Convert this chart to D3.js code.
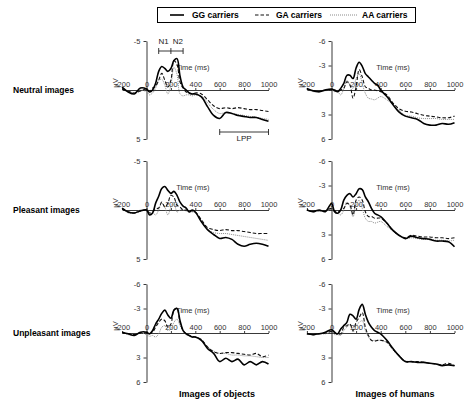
<!DOCTYPE html>
<html>
<head>
<meta charset="utf-8">
<script src="https://cdn.jsdelivr.net/npm/d3@7"></script>
<style>
  body { margin: 0; background: #fff; }
  svg { display: block; font-family: "Liberation Sans", Arial, sans-serif; }
  .axis text { font-size: 7.5px; fill: #333; }
  .axis path, .axis line { stroke: #222; stroke-width: 0.9; }
</style>
</head>
<body>
<div id="chart"></div>
<script>
// time points (ms) shared by every waveform
const times = [-200, -150, -100, -50, 0, 25, 50, 75, 100, 125, 150, 175, 200, 225, 250, 275, 300,
  325, 350, 375, 400, 450, 500, 550, 600, 650, 700, 750, 800, 850, 900, 950, 1000];

const xTicks = [-200, 0, 200, 400, 600, 800, 1000];
const yTicks5 = [-5, 5];
const yTicks6 = [-6, -3, 3, 6];

const rowLabels = ['Neutral images', 'Pleasant images', 'Unpleasant images'];
const colLabels = ['Images of objects', 'Images of humans'];
const seriesNames = ['GG carriers', 'GA carriers', 'AA carriers'];

// amplitudes in µV (negative plotted upward)
const neutralObjectsGG = [-0.3, 0.2, 0.4, -0.2, -0.1, 0.2, 0, -0.7, -1.9, -2.4, -2.2, -1.9, -2.2, -3.0, -3.2, -1.4, -0.3,
  0, 0.3, 0.4, 0.4, 0.7, 1.7, 2.6, 2.9, 2.3, 2.4, 2.6, 2.7, 2.8, 2.8, 3.0, 3.2];
const neutralObjectsGA = [-0.1, 0.1, 0.3, 0.1, -0.1, 0.1, -0.2, -0.4, -1.0, -1.7, -1.0, -0.3, -1.0, -3.0, -2.6, -0.8, -0.2,
  0.2, 0.3, 0.4, 0.3, 0.4, 1.0, 1.6, 1.9, 1.8, 1.9, 1.8, 1.9, 2.0, 2.0, 2.1, 2.2];
const neutralObjectsAA = [-0.2, 0.1, 0.3, 0, 0.2, 0.5, 0.3, -0.2, -1.0, -1.1, -0.5, 0.4, -0.5, -2.3, -1.6, 0.4, 0.6,
  0.5, 0.5, 0.6, 0.5, 0.6, 1.3, 2.0, 2.4, 2.3, 2.4, 2.5, 2.6, 2.7, 2.8, 2.9, 3.0];

const neutralHumansGG = [-0.2, 0.1, 0.2, 0, -0.1, 0, 0.2, -0.2, -0.8, -1.8, -1.8, -1.4, -2.7, -3.4, -2.9, -2.0, -1.6,
  -1.2, -0.8, -0.6, 0, 0.8, 1.8, 2.7, 3.2, 3.4, 3.6, 4.1, 4.3, 4.3, 4.1, 4.2, 4.0];
const neutralHumansGA = [-0.1, 0.1, 0.2, 0, 0, 0.1, 0.2, 0, -0.2, -1.0, -0.6, 1.0, -0.4, -2.5, -1.6, -0.4, -0.2,
  0, 0, 0.1, 0.2, 0.6, 1.6, 2.3, 2.6, 2.7, 2.9, 3.1, 3.2, 3.3, 3.4, 3.4, 3.2];
const neutralHumansAA = [-0.1, 0.2, 0.2, 0.1, 0, 0.2, 0.2, 0.6, -0.2, -1.2, -0.6, -0.2, -1.4, -2.0, -0.8, 0.4, 1.0,
  1.1, 1.2, 1.0, 0.8, 1.2, 1.8, 2.5, 3.1, 3.2, 3.4, 3.5, 3.5, 3.5, 3.6, 3.6, 3.6];

const pleasantObjectsGG = [-0.2, 0.2, 0.3, 0.1, 0, 0.5, 0.3, -0.7, -1.4, -2.2, -2.4, -2.0, -1.7, -1.9, -1.5, -0.8, -0.4,
  -0.2, 0.2, 0, 0.2, 1.2, 2.0, 2.5, 2.9, 2.8, 3.0, 3.5, 3.7, 3.5, 3.4, 3.5, 3.7];
const pleasantObjectsGA = [-0.1, 0.2, 0.3, 0.1, 0, 0.3, 0.2, -0.1, -0.2, -0.8, -0.3, -0.7, -1.5, -1.3, -0.5, -0.3, 0,
  0, 0, 0.1, 0.2, 1.0, 1.8, 2.0, 2.1, 2.0, 2.1, 2.1, 2.2, 2.3, 2.4, 2.4, 2.4];
const pleasantObjectsAA = [-0.2, 0.3, 0.3, 0, 0.1, 0.4, 0.3, 0.5, 0, -0.7, -0.3, 0.5, -0.3, -0.8, 0.2, 0, 0,
  0.1, 0.2, 0.2, 0.3, 1.2, 2.0, 2.3, 2.4, 2.4, 2.5, 2.6, 2.7, 2.8, 2.9, 3.0, 3.1];

const pleasantHumansGG = [0, 0.2, 0, 0.2, -0.8, 0.2, 0.4, 0, -1.2, -1.8, -2.0, -1.6, -2.0, -2.6, -2.5, -1.6, -1.0,
  -0.2, 0.4, 0.6, 0.8, 1.6, 2.5, 3.1, 3.5, 3.2, 3.4, 3.5, 3.6, 3.8, 3.8, 3.9, 4.5];
const pleasantHumansGA = [0, 0.2, 0.1, 0.1, -0.2, 0.1, 0.2, 0, -0.2, -0.8, -0.6, 0.6, -1.2, -1.6, -1.2, 0.2, 0.8,
  0.8, 1.0, 1.0, 1.0, 1.6, 2.5, 3.1, 3.4, 3.1, 3.2, 3.3, 3.3, 3.4, 3.4, 3.5, 3.4];
const pleasantHumansAA = [0, 0.2, 0.1, 0.2, -0.1, 0.3, 0.4, 0.6, 0, -1.0, -0.4, 0.8, -0.6, -1.2, -0.2, 1.0, 1.4,
  1.4, 1.6, 1.5, 1.4, 2.0, 2.6, 3.2, 3.5, 3.4, 3.5, 3.6, 3.6, 3.7, 3.7, 3.8, 3.7];

const unpleasantObjectsGG = [-0.1, 0.1, 0.3, -0.1, -0.1, 0.1, -0.3, -1.1, -1.7, -2.4, -2.8, -2.2, -1.8, -2.8, -3.0, -1.5, -0.3,
  0.1, 0.3, 0.5, 0.5, 0.9, 1.9, 2.5, 3.5, 3.1, 3.5, 3.2, 3.9, 3.5, 3.9, 3.5, 3.8];
const unpleasantObjectsGA = [0, 0.1, 0.2, 0, 0, 0.1, -0.1, -0.7, -1.3, -1.7, -1.5, -0.7, -1.1, -2.8, -3.0, -1.3, -0.3,
  0.1, 0.3, 0.4, 0.5, 0.8, 1.7, 2.3, 2.5, 2.4, 2.4, 2.5, 2.6, 2.7, 2.5, 2.9, 2.7];
const unpleasantObjectsAA = [-0.1, 0.2, 0.3, 0, 0.2, 0.4, 0.3, 0.5, 0.1, -0.7, -0.9, -0.3, -0.5, -1.3, -1.7, -0.9, -0.3,
  0.2, 0.3, 0.4, 0.5, 0.8, 1.7, 2.2, 2.5, 2.5, 2.7, 2.7, 2.8, 2.8, 2.9, 3.0, 3.0];

const unpleasantHumansGG = [0.1, 0.2, 0.1, -0.1, -0.4, -0.1, 0.1, -0.5, -0.9, -1.3, -2.3, -2.1, -1.7, -2.9, -3.5, -2.3, -1.3,
  -0.7, -0.3, -0.1, 0.1, 0.9, 1.9, 2.8, 3.5, 3.5, 3.6, 3.6, 3.7, 3.8, 4.0, 3.9, 4.0];
const unpleasantHumansGA = [0.1, 0.2, 0.1, 0, -0.2, 0, 0.1, 0.1, -0.7, -0.9, -1.1, -0.3, -1.3, -1.9, -2.5, -0.7, 0.3,
  0.9, 1.0, 0.9, 0.9, 1.1, 2.0, 2.8, 3.5, 3.5, 3.5, 3.6, 3.7, 3.8, 3.9, 3.7, 4.0];
const unpleasantHumansAA = [0.1, 0.2, 0.1, 0.1, -0.1, 0.2, 0.2, 0.3, -0.3, -0.7, -1.0, -0.1, -0.9, -1.3, -1.5, -0.3, 0.5,
  0.9, 0.9, 0.9, 0.9, 1.2, 2.1, 2.8, 3.4, 3.5, 3.6, 3.6, 3.7, 3.8, 3.9, 3.9, 4.0];

const width = 474, height = 399;

const panels = [
  { row: 0, col: 0, yMax: 5, yTicks: yTicks5, series: [neutralObjectsGG, neutralObjectsGA, neutralObjectsAA] },
  { row: 0, col: 1, yMax: 6, yTicks: yTicks6, series: [neutralHumansGG, neutralHumansGA, neutralHumansAA] },
  { row: 1, col: 0, yMax: 5, yTicks: yTicks5, series: [pleasantObjectsGG, pleasantObjectsGA, pleasantObjectsAA] },
  { row: 1, col: 1, yMax: 6, yTicks: yTicks6, series: [pleasantHumansGG, pleasantHumansGA, pleasantHumansAA] },
  { row: 2, col: 0, yMax: 6, yTicks: yTicks6, series: [unpleasantObjectsGG, unpleasantObjectsGA, unpleasantObjectsAA] },
  { row: 2, col: 1, yMax: 6, yTicks: yTicks6, series: [unpleasantHumansGG, unpleasantHumansGA, unpleasantHumansAA] }
];

const rowZero = [90, 210, 333];
const halfHeight = 49;
const colRange = [[122.1, 268.5], [306.9, 454.5]];
const timeLabelAt = [380, 500];

const styles = [
  { stroke: '#000', width: 1.6, dash: null },
  { stroke: '#111', width: 1.1, dash: '3.5,2' },
  { stroke: '#8a8a8a', width: 1, dash: '1,1' }
];

const plain = d => String(d);

const svg = d3.select('#chart').append('svg')
  .attr('width', width)
  .attr('height', height);

// legend
const legend = svg.append('g');
legend.append('rect')
  .attr('x', 157.5).attr('y', 7.5).attr('width', 258).attr('height', 15)
  .attr('fill', '#fff').attr('stroke', '#000').attr('stroke-width', 1);
const legendX = [[170, 184, 192], [255, 269, 276], [330, 358, 362]];
seriesNames.forEach((name, i) => {
  legend.append('line')
    .attr('x1', legendX[i][0]).attr('x2', legendX[i][1])
    .attr('y1', 15).attr('y2', 15)
    .attr('stroke', styles[i].stroke)
    .attr('stroke-width', styles[i].width)
    .attr('stroke-dasharray', styles[i].dash);
  legend.append('text')
    .attr('x', legendX[i][2]).attr('y', 18)
    .attr('font-size', 8.5).attr('font-weight', 'bold')
    .text(name);
});

// row labels
rowLabels.forEach((label, i) => {
  svg.append('text')
    .attr('x', 13).attr('y', rowZero[i] + 3)
    .attr('font-size', 8.5).attr('font-weight', 'bold')
    .text(label);
});

// column labels
colLabels.forEach((label, i) => {
  svg.append('text')
    .attr('x', i === 0 ? 217 : 395).attr('y', 397)
    .attr('text-anchor', 'middle')
    .attr('font-size', 9).attr('font-weight', 'bold')
    .text(label);
});

panels.forEach(p => {
  const zeroY = rowZero[p.row];
  const x = d3.scaleLinear().domain([-200, 1000]).range(colRange[p.col]);
  const y = d3.scaleLinear().domain([-p.yMax, p.yMax]).range([zeroY - halfHeight, zeroY + halfHeight]);
  const g = svg.append('g');

  g.append('g')
    .attr('class', 'axis')
    .attr('transform', 'translate(' + x(0) + ',0)')
    .call(d3.axisLeft(y).tickValues(p.yTicks).tickFormat(plain).tickSize(3).tickSizeOuter(0).tickPadding(3));

  g.append('g')
    .attr('class', 'axis')
    .attr('transform', 'translate(0,' + zeroY + ')')
    .call(d3.axisTop(x).tickValues(xTicks).tickFormat(plain).tickSize(2).tickSizeOuter(0).tickPadding(1.5));

  g.append('text')
    .attr('x', x(timeLabelAt[p.col])).attr('y', zeroY - 20)
    .attr('text-anchor', 'middle')
    .attr('font-size', 7.5).attr('fill', '#333')
    .text('Time (ms)');

  g.append('text')
    .attr('transform', 'translate(' + (x(-200) - 4) + ',' + (zeroY - 7) + ') rotate(-90)')
    .attr('text-anchor', 'middle')
    .attr('font-size', 7.5).attr('fill', '#333')
    .text('µV');

  const line = d3.line()
    .x((d, i) => x(times[i]))
    .y(d => y(d))
    .curve(d3.curveCatmullRom.alpha(0.5));

  // draw AA first so the GG line sits on top
  [2, 1, 0].forEach(s => {
    g.append('path')
      .datum(p.series[s])
      .attr('d', line)
      .attr('fill', 'none')
      .attr('stroke', styles[s].stroke)
      .attr('stroke-width', styles[s].width)
      .attr('stroke-dasharray', styles[s].dash)
      .attr('stroke-linejoin', 'round');
  });

  if (p.row === 0 && p.col === 0) {
    // N1 / N2 windows
    const by = 51;
    g.append('line').attr('x1', x(100)).attr('x2', x(300)).attr('y1', by).attr('y2', by)
      .attr('stroke', '#222').attr('stroke-width', 0.9);
    [100, 200, 300].forEach(t => {
      g.append('line').attr('x1', x(t)).attr('x2', x(t)).attr('y1', by - 3).attr('y2', by + 3)
        .attr('stroke', '#222').attr('stroke-width', 0.9);
    });
    g.append('text').attr('x', x(140)).attr('y', 44).attr('text-anchor', 'middle')
      .attr('font-size', 8).attr('fill', '#222').text('N1');
    g.append('text').attr('x', x(258)).attr('y', 44).attr('text-anchor', 'middle')
      .attr('font-size', 8).attr('fill', '#222').text('N2');

    // LPP window
    const ly = 132;
    g.append('line').attr('x1', x(600)).attr('x2', x(1000)).attr('y1', ly).attr('y2', ly)
      .attr('stroke', '#222').attr('stroke-width', 0.9);
    [600, 1000].forEach(t => {
      g.append('line').attr('x1', x(t)).attr('x2', x(t)).attr('y1', ly - 3).attr('y2', ly + 3)
        .attr('stroke', '#222').attr('stroke-width', 0.9);
    });
    g.append('text').attr('x', x(800)).attr('y', 141).attr('text-anchor', 'middle')
      .attr('font-size', 8).attr('fill', '#222').text('LPP');
  }
});
</script>
</body>
</html>
